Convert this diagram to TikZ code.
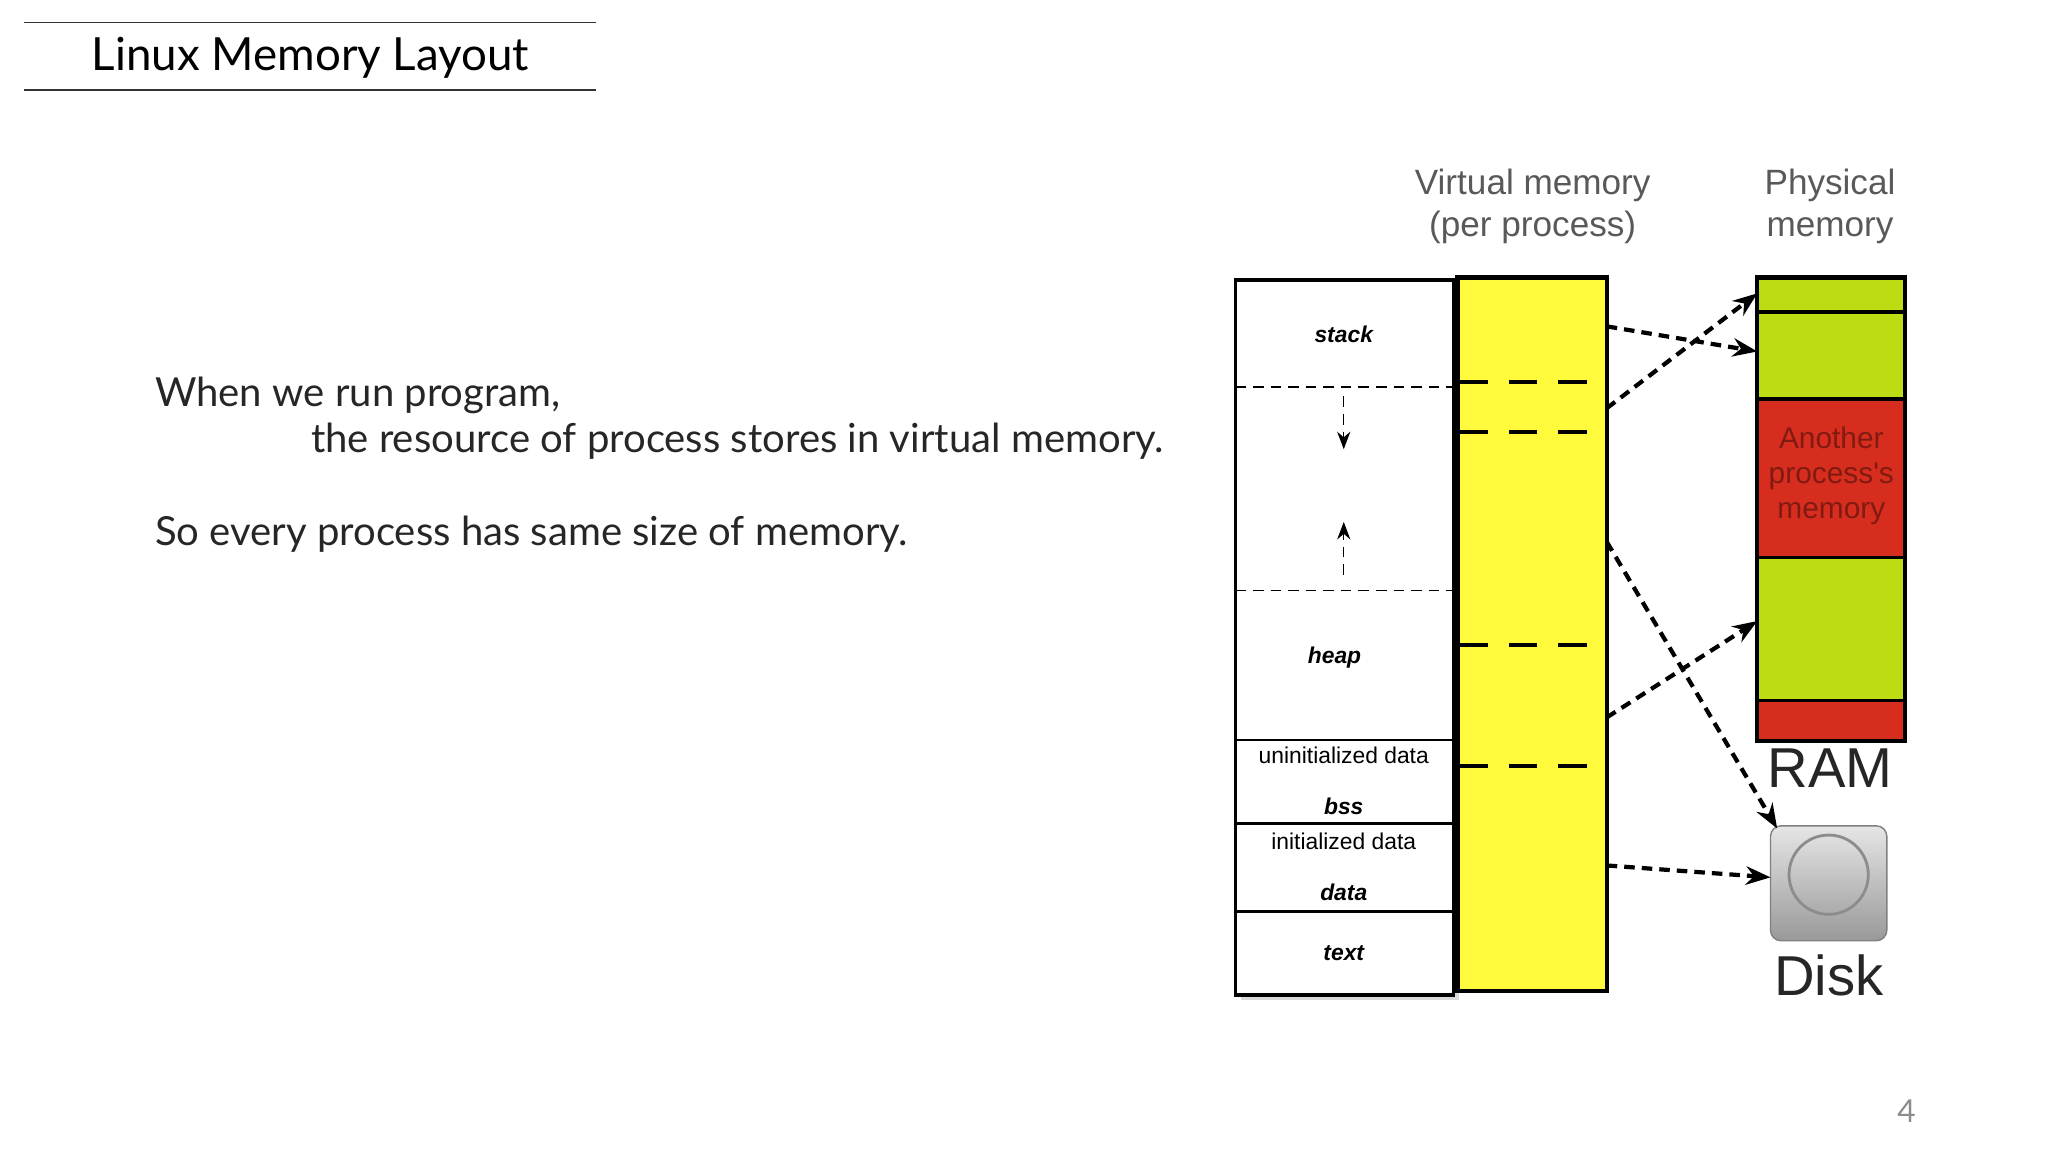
\documentclass[tikz,border=0pt]{standalone}
\usepackage{fontspec}
\setmainfont{Lato}
\newfontfamily\diafont{Liberation Sans}
\usetikzlibrary{arrows.meta,positioning}
\definecolor{ramgreen}{RGB}{190,220,20}
\definecolor{ramred}{RGB}{215,45,30}
\definecolor{vmyellow}{RGB}{255,250,60}
\tikzset{
  seg/.style={font=\diafont\fontsize{6.5}{8}\selectfont},
  segb/.style={font=\diafont\bfseries\itshape\fontsize{6.5}{8}\selectfont},
  map/.style={densely dashed,line width=1.2pt,-{Stealth[length=7pt]}},
  slide/.style={font=\fontsize{11.4}{14}\selectfont\color{black!85}},
}
\begin{document}
\begin{tikzpicture}[x=0.01321cm,y=-0.01321cm]
  \useasboundingbox (0,0) rectangle (1550,872);
  % title
  \draw[black!80] (18,17) -- (451,17) (18,68) -- (451,68);
  \node[slide,font=\fontsize{13}{15}\selectfont] (title) at (235,44) {Linux Memory Layout};
  \node[slide,anchor=west] (line1) at (108,299) {When we run program,};
  \node[slide,anchor=west] (line2) at (226,334) {the resource of process stores in virtual memory.};
  \node[slide,anchor=west] (line3) at (108,404) {So every process has same size of memory.};
  \node[font=\fontsize{9}{10}\selectfont,text=black!45] (page) at (1443,841) {4};
  % headers
  \node[font=\diafont\fontsize{10}{12}\selectfont,text=black!65,align=center] (vhead) at (1160,156) {Virtual memory\\(per process)};
  \node[font=\diafont\fontsize{10}{12}\selectfont,text=black!65,align=center] (phead) at (1385,156) {Physical\\memory};
  % process layout
  \fill[black!15] (939,216) rectangle (1104,757);
  \draw[fill=white,line width=1pt] (935,212) rectangle (1100,753);
  \draw[densely dashed] (935,293) -- (1100,293) (935,447) -- (1100,447);
  \draw[line width=0.8pt] (935,560) -- (1100,560) (935,623) -- (1100,623) (935,690) -- (1100,690);
  \node[segb] (stack) at (1017,253) {stack};
  \node[segb] (heap) at (1010,498) {heap};
  \node[seg] (uninit) at (1017,572) {uninitialized data};
  \node[segb] (bss) at (1017,610) {bss};
  \node[seg] (init) at (1017,637) {initialized data};
  \node[segb] (data) at (1017,675) {data};
  \node[segb] (text) at (1017,721) {text};
  \coordinate (sdown) at (1017,300); \coordinate (sdownend) at (1017,340);
  \coordinate (hup) at (1017,435); \coordinate (hupend) at (1017,395);
  \draw[densely dashed,-{Stealth[length=5pt]}] (sdown) -- (sdownend);
  \draw[densely dashed,-{Stealth[length=5pt]}] (hup) -- (hupend);
  % virtual memory
  \draw[fill=vmyellow,line width=1.2pt] (1103,210) rectangle (1216,750);
  \foreach \y in {289,327,488,580}
    \draw[dashed,line width=1.2pt,dash pattern=on 8pt off 6pt] (1105,\y) -- (1214,\y);
  % physical memory
  \fill[ramgreen] (1330,210) rectangle (1442,302);
  \fill[ramred] (1330,302) rectangle (1442,422);
  \fill[ramgreen] (1330,422) rectangle (1442,530);
  \fill[ramred] (1330,530) rectangle (1442,561);
  \draw[line width=1.2pt] (1330,210) rectangle (1442,561);
  \draw[line width=1pt] (1330,236) -- (1442,236) (1330,302) -- (1442,302)
    (1330,422) -- (1442,422) (1330,530) -- (1442,530);
  \node[font=\diafont\fontsize{8.5}{10}\selectfont,text=ramred!60!black,align=center] (other) at (1386,360) {Another\\process's\\memory};
  \node[font=\diafont\fontsize{16}{18}\selectfont,text=black!85] (ram) at (1385,581) {RAM};
  % disk
  \shade[top color=black!10,bottom color=black!40,rounded corners=3pt,draw=black!50] (1340,625) rectangle (1428,712);
  \draw[black!45,line width=0.8pt] (1384,662) circle[radius=30];
  \node[font=\diafont\fontsize{16}{18}\selectfont,text=black!85] (disk) at (1384,738) {Disk};
  % mappings
  \coordinate (v1) at (1216,247); \coordinate (p1) at (1330,266);
  \coordinate (v2) at (1216,309); \coordinate (p2) at (1330,222);
  \coordinate (v3) at (1216,410); \coordinate (d1) at (1345,627);
  \coordinate (v4) at (1216,543); \coordinate (p3) at (1330,470);
  \coordinate (v5) at (1216,655); \coordinate (d2) at (1340,664);
  \draw[map] (v1) -- (p1);
  \draw[map] (v2) -- (p2);
  \draw[map] (v3) -- (d1);
  \draw[map] (v4) -- (p3);
  \draw[map] (v5) -- (d2);
\end{tikzpicture}
\end{document}
